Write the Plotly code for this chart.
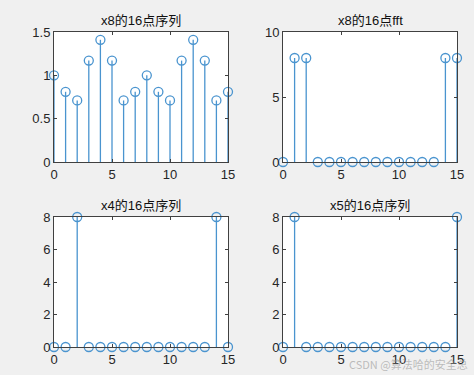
import plotly.graph_objects as go

n = list(range(16))
x8_seq = [1.0, 0.81, 0.71, 1.17, 1.41, 1.17, 0.71, 0.81, 1.0, 0.81, 0.71, 1.17, 1.41, 1.17, 0.71, 0.81]
x8_fft = [0, 8, 8, 0, 0, 0, 0, 0, 0, 0, 0, 0, 0, 0, 8, 8]
x4_seq = [0, 0, 8, 0, 0, 0, 0, 0, 0, 0, 0, 0, 0, 0, 8, 0]
x5_seq = [0, 8, 0, 0, 0, 0, 0, 0, 0, 0, 0, 0, 0, 0, 0, 8]
titles = ["x8的16点序列", "x8的16点fft", "x4的16点序列", "x5的16点序列"]
y_ranges = [[0, 1.5], [0, 10], [0, 8], [0, 8]]
y_ticks = [[0, 0.5, 1, 1.5], [0, 5, 10], [0, 2, 4, 6, 8], [0, 2, 4, 6, 8]]
y_ticklabels = [["0", "0.5", "1", "1.5"], ["0", "5", "10"], ["0", "2", "4", "6", "8"], ["0", "2", "4", "6", "8"]]
x_ticks = [0, 5, 10, 15]

W, H = 474, 375
boxes = [  # left, right, top, bottom in pixels
    (54, 228, 32, 162),
    (283, 457, 32, 162),
    (54, 228, 217, 347),
    (283, 457, 217, 347),
]
color = "#4a94cf"
font = "Liberation Sans, Arial, Noto Sans CJK SC, sans-serif"

fig = go.Figure()
series = [x8_seq, x8_fft, x4_seq, x5_seq]
annotations = []
for i, ys in enumerate(series):
    xa = "x" if i == 0 else f"x{i+1}"
    ya = "y" if i == 0 else f"y{i+1}"
    sx, sy = [], []
    for xv, yv in zip(n, ys):
        sx += [xv, xv, None]
        sy += [0, yv, None]
    fig.add_trace(go.Scatter(x=sx, y=sy, mode="lines", line=dict(color=color, width=1.3),
                             xaxis=xa, yaxis=ya, showlegend=False, hoverinfo="skip", cliponaxis=False))
    fig.add_trace(go.Scatter(x=n, y=ys, mode="markers",
                             marker=dict(symbol="circle-open", size=9, color=color, line=dict(width=1.3, color=color)),
                             xaxis=xa, yaxis=ya, showlegend=False, cliponaxis=False))
    l, r, t, b = boxes[i]
    axis_common = dict(showline=True, linecolor="#404040", linewidth=1, mirror="ticks",
                       ticks="inside", ticklen=3, tickcolor="#404040", showgrid=False, zeroline=False,
                       automargin=False,
                       tickfont=dict(family=font, size=13, color="#262626"))
    fig.update_layout(**{
        ("xaxis" if i == 0 else f"xaxis{i+1}"): dict(domain=[l / W, r / W], anchor=ya, range=[0, 15],
                                                     tickvals=x_ticks, **axis_common),
        ("yaxis" if i == 0 else f"yaxis{i+1}"): dict(domain=[1 - b / H, 1 - t / H], anchor=xa, range=y_ranges[i],
                                                     tickvals=y_ticks[i], ticktext=y_ticklabels[i], **axis_common),
    })
    annotations.append(dict(text=titles[i], x=(l + r) / 2 / W, y=1 - (t - 12) / H, xref="paper", yref="paper",
                            showarrow=False, xanchor="center", yanchor="middle",
                            font=dict(family="Liberation Sans, Noto Sans CJK SC, sans-serif", size=13, color="#111111")))

annotations.append(dict(text="CSDN @算法哈的安全总", x=470 / W, y=1 - 364 / H, xref="paper", yref="paper",
                        showarrow=False, xanchor="right", yanchor="middle",
                        font=dict(family="Noto Sans CJK SC, sans-serif", size=11, color="rgba(150,150,150,0.6)")))

fig.update_layout(template="none", width=W, height=H, margin=dict(l=0, r=0, t=0, b=0),
                  paper_bgcolor="#f0f0f0", plot_bgcolor="white", annotations=annotations)
fig.write_html("out.html", config={"displayModeBar": False},
               post_script="document.body.style.margin='0';document.body.style.background='#f0f0f0';")
